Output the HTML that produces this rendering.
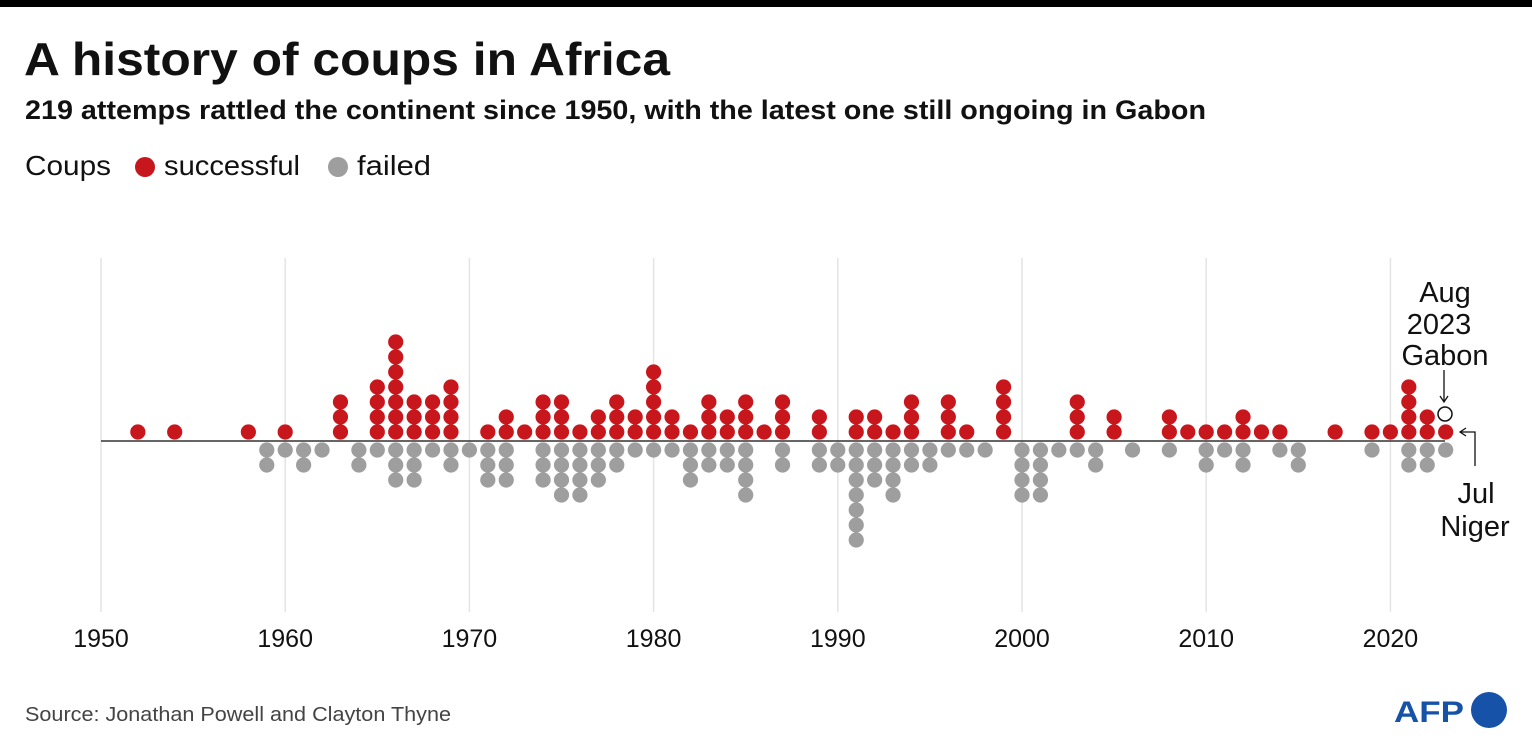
<!DOCTYPE html>
<html><head><meta charset="utf-8"><style>
html,body{margin:0;padding:0;background:#fff;}
svg{display:block;font-family:"Liberation Sans",sans-serif;}
</style></head><body>
<svg id="s" width="1532" height="744" viewBox="0 0 1532 744" xmlns="http://www.w3.org/2000/svg">
<rect x="0" y="0" width="1532" height="7" fill="#000"/>
<text x="24" y="75" font-size="46" font-weight="bold" fill="#111" textLength="646" lengthAdjust="spacingAndGlyphs">A history of coups in Africa</text>
<text x="25" y="119" font-size="27" font-weight="bold" fill="#111" textLength="1181" lengthAdjust="spacingAndGlyphs">219 attemps rattled the continent since 1950, with the latest one still ongoing in Gabon</text>
<text x="25" y="175" font-size="28" fill="#111" textLength="86" lengthAdjust="spacingAndGlyphs">Coups</text>
<circle cx="145" cy="167" r="10" fill="#c8161d"/>
<text x="164" y="175" font-size="28" fill="#111" textLength="136" lengthAdjust="spacingAndGlyphs">successful</text>
<circle cx="338" cy="167" r="10" fill="#9e9e9e"/>
<text x="357" y="175" font-size="28" fill="#111" textLength="74" lengthAdjust="spacingAndGlyphs">failed</text>
<g id="grid"></g>
<g id="dots"></g>
<line x1="101" y1="441" x2="1445" y2="441" stroke="#333" stroke-width="1.5"/>
<circle cx="1445" cy="414" r="7" fill="#fff" stroke="#111" stroke-width="1.5"/>
<text font-size="29" fill="#111" text-anchor="middle"><tspan x="1445" y="302">Aug</tspan><tspan x="1439" y="334">2023</tspan><tspan x="1445" y="365">Gabon</tspan></text>
<path d="M1444 370 V402 M1440 396 L1444 402 L1448 396" stroke="#111" fill="none" stroke-width="1.3"/>
<path d="M1460 432 H1475 V466 M1466 428 L1460 432 L1466 436" stroke="#111" fill="none" stroke-width="1.3"/>
<text font-size="29" fill="#111" text-anchor="middle"><tspan x="1476" y="503">Jul</tspan><tspan x="1475" y="536">Niger</tspan></text>
<text x="25" y="721" font-size="20" fill="#444" textLength="426" lengthAdjust="spacingAndGlyphs">Source: Jonathan Powell and Clayton Thyne</text>
<text x="1394" y="722" font-size="30" font-weight="bold" fill="#1552a8" textLength="70" lengthAdjust="spacingAndGlyphs">AFP</text>
<circle cx="1489" cy="710" r="18" fill="#1552a8"/>
</svg>
<script>
var NS="http://www.w3.org/2000/svg";
function X(y){return 101+(y-1950)*18.42;}
var g=document.getElementById("grid"),d=document.getElementById("dots");
for(var yr=1950;yr<=2020;yr+=10){
 var l=document.createElementNS(NS,"line");
 l.setAttribute("x1",X(yr));l.setAttribute("x2",X(yr));l.setAttribute("y1",258);l.setAttribute("y2",612);
 l.setAttribute("stroke","#e4e4e4");l.setAttribute("stroke-width","1.5");g.appendChild(l);
 var t=document.createElementNS(NS,"text");
 t.setAttribute("x",X(yr));t.setAttribute("y",647);t.setAttribute("font-size","25");t.setAttribute("text-anchor","middle");t.setAttribute("fill","#111");
 t.textContent=yr;g.appendChild(t);
}
var S={1952:1,1954:1,1958:1,1960:1,1963:3,1965:4,1966:7,1967:3,1968:3,1969:4,1971:1,1972:2,1973:1,1974:3,1975:3,1976:1,1977:2,1978:3,1979:2,1980:5,1981:2,1982:1,1983:3,1984:2,1985:3,1986:1,1987:3,1989:2,1991:2,1992:2,1993:1,1994:3,1996:3,1997:1,1999:4,2003:3,2005:2,2008:2,2009:1,2010:1,2011:1,2012:2,2013:1,2014:1,2017:1,2019:1,2020:1,2021:4,2022:2,2023:1};
var F={1959:2,1960:1,1961:2,1962:1,1964:2,1965:1,1966:3,1967:3,1968:1,1969:2,1970:1,1971:3,1972:3,1974:3,1975:4,1976:4,1977:3,1978:2,1979:1,1980:1,1981:1,1982:3,1983:2,1984:2,1985:4,1987:2,1989:2,1990:2,1991:7,1992:3,1993:4,1994:2,1995:2,1996:1,1997:1,1998:1,2000:4,2001:4,2002:1,2003:1,2004:2,2006:1,2008:1,2010:2,2011:1,2012:2,2014:1,2015:2,2019:1,2021:2,2022:2,2023:1};
function dot(x,y,c){var e=document.createElementNS(NS,"circle");e.setAttribute("cx",x);e.setAttribute("cy",y);e.setAttribute("r",7.6);e.setAttribute("fill",c);d.appendChild(e);}
for(var k in S)for(var i=0;i<S[k];i++)dot(X(+k),432-i*15,"#c8161d");
for(var k in F)for(var i=0;i<F[k];i++)dot(X(+k),450+i*15,"#9e9e9e");
</script>
</body></html>
